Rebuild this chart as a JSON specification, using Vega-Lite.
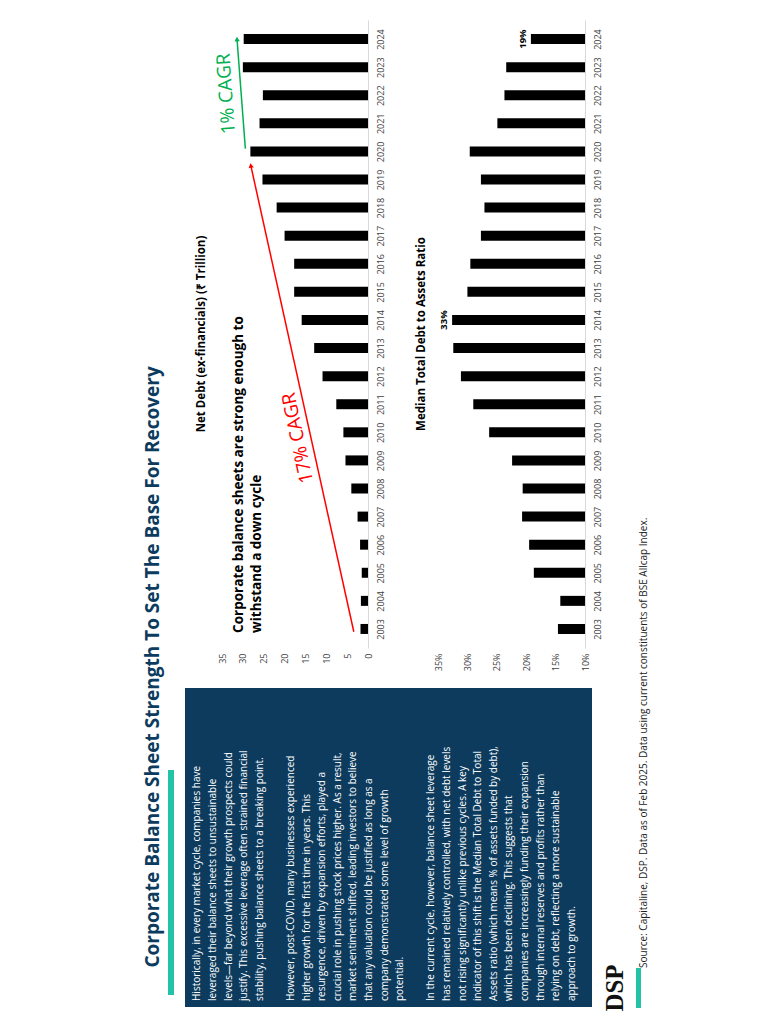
{
  "$schema": "https://vega.github.io/schema/vega-lite/v6.json",
  "background": "white",
  "padding": {"left": 143, "top": 20, "right": 5, "bottom": 5},
  "config": {
    "font": "Open Sans",
    "view": {"stroke": null},
    "axis": {"grid": false, "ticks": false, "domain": false, "labelFont": "Open Sans", "labelFontSize": 9, "labelColor": "#404040", "title": null, "labelFlush": false, "labelOverlap": false, "tickCount": 40}
  },
  "title": {
    "text": "Corporate Balance Sheet Strength To Set The Base For Recovery",
    "orient": "left", "anchor": "start", "font": "Open Sans", "fontSize": 19, "fontWeight": "bold", "color": "#0d3b5e", "offset": 5, "dx": 44
  },
  "datasets": {
    "netdebt": [
      {"year": 2003, "debt": 1.8}, {"year": 2004, "debt": 1.7}, {"year": 2005, "debt": 1.5}, {"year": 2006, "debt": 1.9},
      {"year": 2007, "debt": 2.5}, {"year": 2008, "debt": 4.0}, {"year": 2009, "debt": 5.4}, {"year": 2010, "debt": 5.9},
      {"year": 2011, "debt": 7.6}, {"year": 2012, "debt": 10.9}, {"year": 2013, "debt": 12.9}, {"year": 2014, "debt": 15.9},
      {"year": 2015, "debt": 17.7}, {"year": 2016, "debt": 17.7}, {"year": 2017, "debt": 20.0}, {"year": 2018, "debt": 21.9},
      {"year": 2019, "debt": 25.3}, {"year": 2020, "debt": 28.2}, {"year": 2021, "debt": 26.0}, {"year": 2022, "debt": 25.2},
      {"year": 2023, "debt": 30.0}, {"year": 2024, "debt": 29.8}
    ],
    "ratio": [
      {"year": 2003, "ratio": 0.146}, {"year": 2004, "ratio": 0.142}, {"year": 2005, "ratio": 0.187}, {"year": 2006, "ratio": 0.195},
      {"year": 2007, "ratio": 0.207}, {"year": 2008, "ratio": 0.206}, {"year": 2009, "ratio": 0.224}, {"year": 2010, "ratio": 0.263},
      {"year": 2011, "ratio": 0.290}, {"year": 2012, "ratio": 0.311}, {"year": 2013, "ratio": 0.324}, {"year": 2014, "ratio": 0.326, "label": "33%"},
      {"year": 2015, "ratio": 0.300}, {"year": 2016, "ratio": 0.295}, {"year": 2017, "ratio": 0.277}, {"year": 2018, "ratio": 0.271},
      {"year": 2019, "ratio": 0.277}, {"year": 2020, "ratio": 0.296}, {"year": 2021, "ratio": 0.249}, {"year": 2022, "ratio": 0.237},
      {"year": 2023, "ratio": 0.234}, {"year": 2024, "ratio": 0.192, "label": "19%"}
    ],
    "cagr": [
      {"label": "17% CAGR", "fromYear": 2002.9, "fromDebt": 3.4, "toYear": 2019.5, "toDebt": 28.1},
      {"label": "1% CAGR", "fromYear": 2020.1, "fromDebt": 29.4, "toYear": 2024.0, "toDebt": 31.4}
    ],
    "lines": [
      {"line": 0, "text": "Historically, in every market cycle, companies have"},
      {"line": 1, "text": "leveraged their balance sheets to unsustainable"},
      {"line": 2, "text": "levels\u2014far beyond what their growth prospects could"},
      {"line": 3, "text": "justify. This excessive leverage often strained financial"},
      {"line": 4, "text": "stability, pushing balance sheets to a breaking point."},
      {"line": 6, "text": "However, post-COVID, many businesses experienced"},
      {"line": 7, "text": "higher growth for the first time in years. This"},
      {"line": 8, "text": "resurgence, driven by expansion efforts, played a"},
      {"line": 9, "text": "crucial role in pushing stock prices higher. As a result,"},
      {"line": 10, "text": "market sentiment shifted, leading investors to believe"},
      {"line": 11, "text": "that any valuation could be justified as long as a"},
      {"line": 12, "text": "company demonstrated some level of growth"},
      {"line": 13, "text": "potential."},
      {"line": 15, "text": "In the current cycle, however, balance sheet leverage"},
      {"line": 16, "text": "has remained relatively controlled, with net debt levels"},
      {"line": 17, "text": "not rising significantly unlike previous cycles. A key"},
      {"line": 18, "text": "indicator of this shift is the Median Total Debt to Total"},
      {"line": 19, "text": "Assets ratio (which means % of assets funded by debt),"},
      {"line": 20, "text": "which has been declining. This suggests that"},
      {"line": 21, "text": "companies are increasingly funding their expansion"},
      {"line": 22, "text": "through internal reserves and profits rather than"},
      {"line": 23, "text": "relying on debt, reflecting a more sustainable"},
      {"line": 24, "text": "approach to growth."}
    ]
  },
  "spacing": 0,
  "hconcat": [
    {
      "spacing": 10,
      "hconcat": [
        {
          "spacing": 0,
          "vconcat": [
            {"width": 6, "height": 750, "data": {"values": [{}]}, "mark": {"type": "rect", "opacity": 0}, "encoding": {}},
            {"width": 6, "height": 225, "data": {"values": [{}]}, "mark": {"type": "rect", "color": "#22c3a6"}, "encoding": {}}
          ]
        },
        {"width": 1, "height": 10, "data": {"values": [{}]}, "mark": {"type": "rect", "opacity": 0}, "encoding": {}}
      ]
    },
    {
      "spacing": 17,
      "vconcat": [
        {
          "spacing": 9,
          "hconcat": [
            {"width": 1, "height": 10, "data": {"values": [{}]}, "mark": {"type": "rect", "opacity": 0}, "encoding": {}},
            {
              "spacing": 30,
              "hconcat": [
                {
                  "width": 146, "height": 628,
                  "title": {"text": "Net Debt (ex-financials) (\u20b9 Trillion)", "orient": "left", "anchor": "middle", "fontSize": 11.5, "fontWeight": "bold", "color": "#000000", "offset": 7},
                  "layer": [
                    {
                      "data": {"name": "netdebt"},
                      "mark": {"type": "bar", "orient": "horizontal", "size": 10, "color": "#000000"},
                      "encoding": {
                        "y": {"field": "year", "type": "quantitative", "scale": {"domain": [2002.5, 2024.5], "nice": false, "zero": false},
                          "axis": {"orient": "right", "values": [2003,2004,2005,2006,2007,2008,2009,2010,2011,2012,2013,2014,2015,2016,2017,2018,2019,2020,2021,2022,2023,2024], "tickCount": 40, "format": "d", "labelAngle": 270, "labelAlign": "center", "labelBaseline": "top", "labelPadding": 8, "labelOverlap": false, "labelBound": false, "domain": true, "domainColor": "#d9d9d9"}},
                        "x": {"field": "debt", "type": "quantitative", "scale": {"domain": [0, 35], "reverse": true, "nice": false},
                          "axis": {"orient": "bottom", "values": [0,5,10,15,20,25,30,35], "tickCount": 40, "labelAngle": 270, "labelAlign": "right", "labelBaseline": "middle", "labelPadding": 5, "labelOverlap": false, "labelBound": false}}
                      }
                    },
                    {
                      "data": {"name": "cagr"},
                      "mark": {"type": "rule", "strokeWidth": 1.5},
                      "encoding": {
                        "y": {"field": "fromYear", "type": "quantitative"},
                        "y2": {"field": "toYear"},
                        "x": {"field": "fromDebt", "type": "quantitative"},
                        "x2": {"field": "toDebt"},
                        "color": {"field": "label", "type": "nominal", "scale": {"domain": ["17% CAGR", "1% CAGR"], "range": ["#ff0000", "#00b050"]}, "legend": null}
                      }
                    },
                    {
                      "data": {"name": "cagr"},
                      "transform": [{"filter": "datum.label == '17% CAGR'"}],
                      "mark": {"type": "point", "shape": "triangle-up", "filled": true, "size": 28, "opacity": 1, "angle": 348},
                      "encoding": {
                        "y": {"field": "toYear", "type": "quantitative"},
                        "x": {"field": "toDebt", "type": "quantitative"},
                        "color": {"field": "label", "type": "nominal", "legend": null}
                      }
                    },
                    {
                      "data": {"name": "cagr"},
                      "transform": [{"filter": "datum.label == '1% CAGR'"}],
                      "mark": {"type": "point", "shape": "triangle-up", "filled": true, "size": 28, "opacity": 1, "angle": 356},
                      "encoding": {
                        "y": {"field": "toYear", "type": "quantitative"},
                        "x": {"field": "toDebt", "type": "quantitative"},
                        "color": {"field": "label", "type": "nominal", "legend": null}
                      }
                    },
                    {
                      "data": {"name": "cagr"},
                      "transform": [{"filter": "datum.label == '17% CAGR'"}],
                      "mark": {"type": "text", "angle": 258, "fontSize": 19, "align": "center", "baseline": "middle"},
                      "encoding": {
                        "y": {"datum": 2009.8, "type": "quantitative"},
                        "x": {"datum": 16.8, "type": "quantitative"},
                        "text": {"field": "label"},
                        "color": {"field": "label", "type": "nominal", "legend": null}
                      }
                    },
                    {
                      "data": {"name": "cagr"},
                      "transform": [{"filter": "datum.label == '1% CAGR'"}],
                      "mark": {"type": "text", "angle": 266, "fontSize": 19, "align": "center", "baseline": "middle"},
                      "encoding": {
                        "y": {"datum": 2022.05, "type": "quantitative"},
                        "x": {"datum": 34.0, "type": "quantitative"},
                        "text": {"field": "label"},
                        "color": {"field": "label", "type": "nominal", "legend": null}
                      }
                    },
                    {
                      "data": {"values": [{"note": "Corporate balance sheets are strong enough to"}]},
                      "mark": {"type": "text", "angle": 270, "fontSize": 13.5, "fontWeight": "bold", "align": "left", "baseline": "middle", "color": "#000000"},
                      "encoding": {
                        "y": {"datum": 2002.86, "type": "quantitative"},
                        "x": {"datum": 30.9, "type": "quantitative"},
                        "text": {"field": "note"}
                      }
                    },
                    {
                      "data": {"values": [{"note": "withstand a down cycle"}]},
                      "mark": {"type": "text", "angle": 270, "fontSize": 13.5, "fontWeight": "bold", "align": "left", "baseline": "middle", "color": "#000000"},
                      "encoding": {
                        "y": {"datum": 2002.86, "type": "quantitative"},
                        "x": {"datum": 26.6, "type": "quantitative"},
                        "text": {"field": "note"}
                      }
                    }
                  ]
                },
                {
                  "width": 147, "height": 628,
                  "title": {"text": "Median Total Debt to Assets Ratio", "orient": "left", "anchor": "middle", "fontSize": 11.5, "fontWeight": "bold", "color": "#000000", "offset": 7},
                  "data": {"name": "ratio"},
                  "layer": [
                    {
                      "mark": {"type": "bar", "orient": "horizontal", "size": 10, "color": "#000000"},
                      "encoding": {
                        "y": {"field": "year", "type": "quantitative", "scale": {"domain": [2002.5, 2024.5], "nice": false, "zero": false},
                          "axis": {"orient": "right", "values": [2003,2004,2005,2006,2007,2008,2009,2010,2011,2012,2013,2014,2015,2016,2017,2018,2019,2020,2021,2022,2023,2024], "tickCount": 40, "format": "d", "labelAngle": 270, "labelAlign": "center", "labelBaseline": "top", "labelPadding": 8, "labelOverlap": false, "labelBound": false, "domain": true, "domainColor": "#d9d9d9"}},
                        "x": {"field": "ratio", "type": "quantitative", "scale": {"domain": [0.1, 0.35], "reverse": true, "nice": false, "zero": false},
                          "axis": {"orient": "bottom", "values": [0.1,0.15,0.2,0.25,0.3,0.35], "tickCount": 40, "format": ".0%", "labelAngle": 270, "labelAlign": "right", "labelBaseline": "middle", "labelPadding": 5, "labelOverlap": false, "labelBound": false}},
                        "x2": {"datum": 0.1}
                      }
                    },
                    {
                      "transform": [{"filter": "datum.label != null"}],
                      "mark": {"type": "text", "angle": 270, "align": "center", "baseline": "bottom", "dy": -3, "fontWeight": "bold", "fontSize": 9.5, "color": "#000000"},
                      "encoding": {
                        "y": {"field": "year", "type": "quantitative"},
                        "x": {"field": "ratio", "type": "quantitative"},
                        "text": {"field": "label"}
                      }
                    }
                  ]
                }
              ]
            }
          ]
        },
        {
          "width": 407, "height": 319,
          "view": {"fill": "#0d3b5e", "stroke": null},
          "data": {"name": "lines"},
          "mark": {"type": "text", "angle": 270, "align": "left", "baseline": "middle", "dx": 6, "fontSize": 10, "color": "#ffffff", "font": "Open Sans"},
          "encoding": {
            "x": {"field": "line", "type": "quantitative", "scale": {"domain": [-0.8, 25.3], "nice": false, "zero": false}, "axis": null},
            "y": {"datum": 0, "type": "quantitative", "scale": {"domain": [0, 1]}, "axis": null},
            "text": {"field": "text"}
          }
        }
      ]
    },
    {
      "spacing": 0,
      "bounds": "flush",
      "vconcat": [
        {"width": 2, "height": 948, "data": {"values": [{}]}, "mark": {"type": "rect", "opacity": 0}, "encoding": {}},
        {
          "spacing": 12,
          "bounds": "flush",
          "hconcat": [
            {"width": 2, "height": 40, "data": {"values": [{}]}, "mark": {"type": "text", "text": "DSP", "angle": 270, "font": "Liberation Serif", "fontWeight": "bold", "fontSize": 25, "color": "#111111", "align": "center", "baseline": "alphabetic"}, "encoding": {}},
            {
              "width": 5, "height": 40,
              "data": {"values": [{}]},
              "mark": {"type": "rect", "color": "#22c3a6"},
              "encoding": {},
              "title": {"text": "Source: Capitaline, DSP. Data as of Feb 2025. Data using current constituents of BSE Allcap Index.", "orient": "right", "angle": 270, "anchor": "start", "offset": -12, "fontSize": 10, "fontWeight": "normal", "color": "#222222", "font": "Open Sans"}
            }
          ]
        }
      ]
    }
  ]
}
